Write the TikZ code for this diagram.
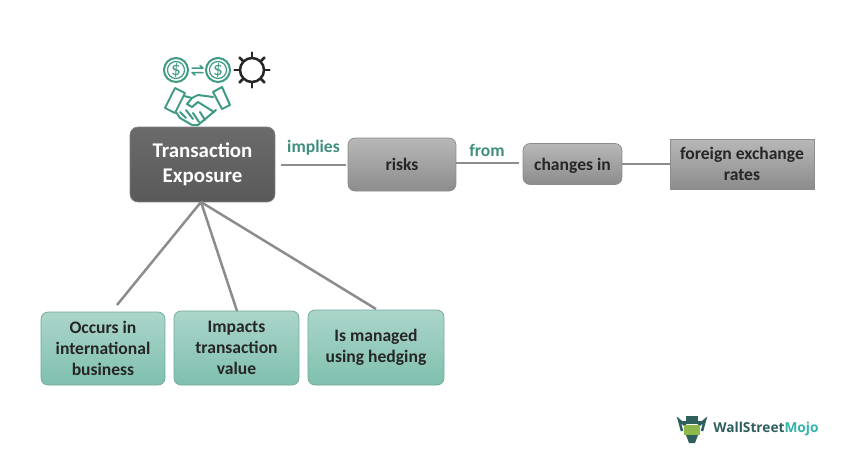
\documentclass[tikz,border=0pt]{standalone}
\usepackage{fontspec}
\setmainfont{Carlito}
\newfontfamily\logofont{Open Sans}
\usepackage{xcolor}
\usetikzlibrary{arrows.meta}
\definecolor{hgreen}{HTML}{3F8F7C}
\definecolor{greentop}{HTML}{ABD5CA}
\definecolor{greenbot}{HTML}{7FC0AF}
\definecolor{greenrim}{HTML}{6FA89A}
\definecolor{iconline}{HTML}{3E9A84}
\definecolor{linegray}{HTML}{8C8C8C}
\definecolor{logodark}{HTML}{2E5F5C}
\definecolor{logoteal}{HTML}{35B3A8}
\definecolor{logolime}{HTML}{8DB84A}
\tikzset{
  box/.style={align=center,inner sep=0pt,font=\bfseries\fontsize{10}{11.8}\selectfont,text=black!85},
  darkbox/.style={box,draw=black!50,rounded corners=0.16cm,top color=black!58,bottom color=black!65,text=white,font=\bfseries\fontsize{11.9}{14.2}\selectfont},
  graybox/.style={box,draw=black!45,rounded corners=0.14cm,top color=black!28,bottom color=black!45},
  greenbox/.style={box,draw=greenrim,rounded corners=0.14cm,top color=greentop,bottom color=greenbot},
  conn/.style={draw=linegray,line width=0.5mm},
  word/.style={inner sep=0pt,text=hgreen,font=\bfseries\fontsize{10}{12}\selectfont},
  icon/.style={draw=iconline,line width=0.4mm,line join=round,line cap=round}
}
\begin{document}
\begin{tikzpicture}[x=0.02cm,y=-0.02cm]
\useasboundingbox (0,0) rectangle (855,457);
% main boxes
\node[darkbox,minimum width=2.9cm,minimum height=1.5cm] (exposure) at (202.5,164.5) {Transaction\\Exposure};
\node[graybox,minimum width=2.16cm,minimum height=1.06cm,text depth=0pt] (risks) at (402,164.5) {risks};
\node[graybox,minimum width=1.98cm,minimum height=0.82cm,text depth=0pt] (changes) at (572.5,164) {changes in};
\node[graybox,rounded corners=0pt,minimum width=2.88cm,minimum height=1cm] (rates) at (742,164) {foreign exchange\\rates};
\node[greenbox,minimum width=2.48cm,minimum height=1.46cm] (business) at (103,348.5) {Occurs in\\international\\business};
\node[greenbox,minimum width=2.5cm,minimum height=1.48cm] (value) at (236.5,348) {Impacts\\transaction\\value};
\node[greenbox,minimum width=2.72cm,minimum height=1.5cm] (hedging) at (376,347.5) {Is managed\\using hedging};
% labels
\node[word] (implies) at (313.5,148) {implies};
\node[word] (from) at (487,150) {from};
% connectors
\coordinate (impliesstart) at (281,165);
\coordinate (impliesend) at (346,165);
\coordinate (fromend) at (519,163);
\coordinate (fromstart) at (456,163);
\coordinate (fan) at (201,202);
\coordinate (fana) at (117,305);
\coordinate (fanb) at (237,311);
\coordinate (fanc) at (376,309);
\draw[conn] (impliesstart)--(impliesend);
\draw[conn] (fromstart)--(fromend);
\draw[conn] (changes.east)--(rates.west);
\draw[conn] (fan)--(fana) (fan)--(fanb) (fan)--(fanc);
% dollars
\foreach \cx/\nm in {176/coina,218/coinb}{
\draw[icon] (\cx,70) circle (12);
\draw[icon,line width=0.25mm] (\cx,70) circle (8.5);
\node[inner sep=0pt,text=iconline,font=\fontsize{11}{11}\selectfont] (\nm) at (\cx,70) {\$};
}
\draw[icon,line width=0.3mm] (192,68)--(203,68)--(200,65.5);
\draw[icon,line width=0.3mm] (203,72.5)--(192,72.5)--(195,75);
% sun
\draw[line width=0.5mm,black!85] (252,70) circle (12);
\foreach \a in {0,45,...,315}{
\draw[line width=0.5mm,black!85,line cap=round] (252,70)++(\a:12)--++(\a:5.5);
}
% handshake
\draw[icon] (165,108)--(175,88)--(185,93)--(175,113)--cycle;
\draw[icon] (213,92)--(222,87)--(230,105)--(222,109)--cycle;
\draw[icon] (184,96)--(192,98)--(198,95)--(213,97);
\draw[icon] (192,98)--(187,104)--(192,107)--(198,102)--(214,112);
\draw[icon] (176,112)--(180,118)--(192,125)--(198,125)--(216,110);
\draw[icon] (180,112)--(186,118) (186,110)--(193,119) (193,113)--(199,122) (200,112)--(205,120);
% logo
\fill[logodark] (686,416) rectangle (698,424);
\fill[logodark] (682,421) rectangle (702,424);
\draw[logodark,line width=0.5mm] (686,426)--(679,420)--(682,431);
\draw[logodark,line width=0.5mm] (698,426)--(705,420)--(702,431);
\fill[logolime] (684,425) rectangle (700,435);
\fill[logodark] (686,435)--(698,435)--(695,443)--(689,443)--cycle;
\node[inner sep=0pt,anchor=west,font=\logofont\bfseries\fontsize{7.8}{10}\selectfont] (logo) at (713,429) {\textcolor{logodark}{WallStreet}\textcolor{logoteal}{Mojo}};
\end{tikzpicture}
\end{document}
